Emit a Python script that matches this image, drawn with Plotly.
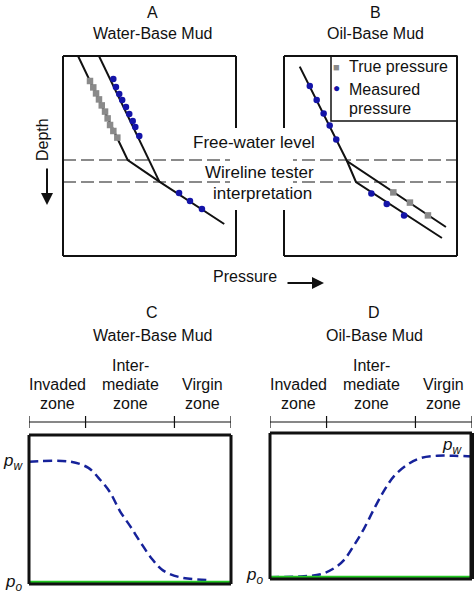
"""Pressure-gradient sketches: wireline tester plots (A, B) and invasion profiles (C, D)."""

import plotly.graph_objects as go

W, H = 474, 594
FONT = "Liberation Sans, Arial, sans-serif"
INK = "#111111"
GREY = "#8a8a8a"
BLUE = "#1414a8"
NAVY = "#16229a"
GREEN = "#22c822"

# ── Panels A/B: pressure (x, 0-100) vs depth (y, 0-100 downward) ────────────
a_true_line_p = [8.7, 37.4, 55.7, 93.2]
a_true_line_d = [0, 52, 62.8, 84]
a_meas_line_p = [20.8, 55.7]
a_meas_line_d = [0, 62.8]
a_true_p = [15.6, 17.5, 19.1, 20.8, 22.4, 24.3, 25.8, 27.2, 29.1, 31.4]
a_true_d = [12.5, 15.7, 18.7, 21.7, 24.7, 27.8, 31.2, 34.5, 37.5, 40.8]
a_meas_p = [29.1, 30.6, 32.5, 34.2, 36.4, 38.3, 40.3, 41.8, 44.1, 67.1, 73.4, 80.3]
a_meas_d = [11.5, 15.5, 19, 22, 25.5, 29, 32.5, 35.5, 40, 68.5, 72.5, 76.5]

b_true_line_p = [9.1, 36.4, 93.6]
b_true_line_d = [5.3, 52.5, 85.5]
b_meas_line_p = [36.4, 41.6, 91.3]
b_meas_line_d = [52.5, 63, 91]
b_true_p = [63.2, 72.8, 83.2]
b_true_d = [68.2, 73.3, 79.7]
b_meas_p = [14.9, 18.9, 22.9, 26.4, 30.2, 50.5, 59.4, 69.4]
b_meas_d = [15, 22, 28.7, 34.8, 41.7, 68.7, 74, 79.7]

level_d = [52, 63]          # free-water level / wireline tester interpretation
level_p = [0, 100]

# ── Panels C/D: pressure (p_o = 0, p_w = 1) vs distance from borehole ───────
zone_edges = [0, 28, 72, 100]
zone_labels = [["Invaded", "zone"], ["Inter-", "mediate", "zone"], ["Virgin", "zone"]]

c_dist = [0, 20.3, 29.4, 35.1, 40.1, 45.0, 50.0, 55.0, 60.7, 66.3, 74.8, 88.1]
c_press = [1.0, 1.0, 0.948, 0.852, 0.746, 0.590, 0.467, 0.336, 0.197, 0.098, 0.041, 0.019]
d_dist = [0, 15.2, 25.1, 31.7, 36.6, 41.6, 46.5, 51.5, 56.4, 61.4, 68.0, 74.6, 82.8, 91.1, 100]
d_press = [0, 0.006, 0.025, 0.074, 0.142, 0.265, 0.402, 0.566, 0.716, 0.839, 0.934,
           0.989, 1.008, 1.008, 1.002]
base_dist = [0, 100]
base_press = [0, 0]


def px(x):
    return x / W


def py(y):
    return 1 - y / H


annotations = []
shapes = []


def text(s, x, y, size=16, xref="paper", color=INK, **kw):
    kw.setdefault("xanchor", "center")
    kw.setdefault("yanchor", "middle")
    annotations.append(dict(
        text=s, x=x if xref != "paper" else px(x), y=py(y),
        xref=xref, yref="paper", showarrow=False,
        font=dict(size=size, color=color, family=FONT), **kw,
    ))


def frame(n, width, extra_right=None):
    sfx = "" if n == 1 else str(n)
    xr, yr = f"x{sfx} domain", f"y{sfx} domain"
    sides = [(0, 0, 1, 0), (0, 1, 1, 1), (0, 0, 0, 1), (1, 0, 1, 1)]
    for x0, y0, x1, y1 in sides:
        shapes.append(dict(type="line", xref=xr, yref=yr, x0=x0, y0=y0, x1=x1, y1=y1,
                           line=dict(color=INK, width=width)))
    if extra_right:
        shapes.append(dict(type="line", xref=xr, yref=yr, x0=1, y0=0, x1=1, y1=1,
                           line=dict(color=INK, width=extra_right)))


fig = go.Figure()


def line(x, y, n, **kw):
    sfx = "" if n == 1 else str(n)
    fig.add_trace(go.Scatter(x=x, y=y, mode="lines", xaxis="x" + sfx, yaxis="y" + sfx,
                             hoverinfo="skip", **kw))


def pts(x, y, n, symbol, color):
    sfx = "" if n == 1 else str(n)
    fig.add_trace(go.Scatter(x=x, y=y, mode="markers", xaxis="x" + sfx, yaxis="y" + sfx,
                             marker=dict(symbol=symbol, size=6.5, color=color, line_width=0)))


# ── A and B ──────────────────────────────────────────────────────────────────
for n in (1, 2):
    for d in level_d:
        line(level_p, [d, d], n, line=dict(color=GREY, width=2, dash="13px,5px"))

line(a_true_line_p, a_true_line_d, 1, line=dict(color=INK, width=2))
line(a_meas_line_p, a_meas_line_d, 1, line=dict(color=INK, width=2))
pts(a_true_p, a_true_d, 1, "square", GREY)
pts(a_meas_p, a_meas_d, 1, "circle", BLUE)

line(b_true_line_p, b_true_line_d, 2, line=dict(color=INK, width=2))
line(b_meas_line_p, b_meas_line_d, 2, line=dict(color=INK, width=2))
pts(b_true_p, b_true_d, 2, "square", GREY)
pts(b_meas_p, b_meas_d, 2, "circle", BLUE)

# ── C and D ──────────────────────────────────────────────────────────────────
line(c_dist, c_press, 3, line=dict(color=NAVY, width=2.5, dash="9px,5px", shape="spline"))
line(base_dist, base_press, 3, line=dict(color=GREEN, width=3))
line(d_dist, d_press, 4, line=dict(color=NAVY, width=2.5, dash="9px,5px", shape="spline"))
line(base_dist, base_press, 4, line=dict(color=GREEN, width=3))

frame(1, 2)
frame(2, 2)
frame(3, 3)
frame(4, 3, extra_right=5)

# white gap behind the middle labels
shapes.append(dict(type="rect", xref="paper", yref="paper",
                   x0=px(230), x1=px(293), y0=py(210), y1=py(128),
                   fillcolor="white", line_width=0))
# legend box
shapes.append(dict(type="rect", xref="paper", yref="paper",
                   x0=px(331), x1=px(457), y0=py(121), y1=py(56),
                   line=dict(color=INK, width=1.5)))

# zone scale bars
for n in (3, 4):
    xr, ybar = f"x{n}", 422
    shapes.append(dict(type="line", xref=xr, yref="paper",
                       x0=zone_edges[0], x1=zone_edges[-1], y0=py(ybar), y1=py(ybar),
                       line=dict(color=INK, width=1.2)))
    for e in zone_edges:
        shapes.append(dict(type="line", xref=xr, yref="paper",
                           x0=e, x1=e, y0=py(ybar - 6), y1=py(ybar + 6),
                           line=dict(color=INK, width=1.2)))
    for (lo, hi), lab in zip(zip(zone_edges[:-1], zone_edges[1:]), zone_labels):
        for i, s in enumerate(lab):
            text(s, (lo + hi) / 2, 403 - (len(lab) - 1 - i) * 19, xref=xr)

# ── text ─────────────────────────────────────────────────────────────────────
text("A", 152, 12)
text("Water-Base Mud", 152, 33)
text("B", 375, 12)
text("Oil-Base Mud", 375, 33)
text("Free-water level", 254, 143, size=17)
text("Wireline tester", 259, 172, size=17)
text("interpretation", 262, 194, size=17)
text("Depth", 42, 140, textangle=-90)
text("Pressure", 245, 276)

text("■", 336, 67, size=11, color=GREY)
text("●", 336, 88, size=12, color=BLUE)
text("True pressure", 347, 67, xanchor="left")
text("Measured", 347, 89, xanchor="left")
text("pressure", 347, 108, xanchor="left")

text("C", 152, 312)
text("Water-Base Mud", 152, 335)
text("D", 374, 312)
text("Oil-Base Mud", 374, 335)

pw = "<i>p</i><sub><i>w</i></sub>"
po = "<i>p</i><sub><i>o</i></sub>"
text(pw, 13, 462, size=17)
text(po, 13, 583, size=17)
text(po, 254, 576, size=17)
text(pw, 452, 446, size=17)

for (hx, hy, ax, ay) in [(47, 205, 0, -38), (324, 283, -38, 0)]:
    annotations.append(dict(x=px(hx), y=py(hy), xref="paper", yref="paper",
                            ax=ax, ay=ay, text="", showarrow=True,
                            arrowhead=2, arrowsize=1.2, arrowwidth=2, arrowcolor=INK))

hidden = dict(visible=False, fixedrange=True)
fig.update_layout(
    width=W, height=H,
    margin=dict(l=0, r=0, t=0, b=0),
    paper_bgcolor="white", plot_bgcolor="white",
    showlegend=False,
    xaxis=dict(**hidden, domain=[px(63), px(236)], range=[0, 100]),
    yaxis=dict(**hidden, domain=[py(256), py(56)], range=[100, 0]),
    xaxis2=dict(**hidden, domain=[px(284), px(457)], range=[0, 100]),
    yaxis2=dict(**hidden, domain=[py(256), py(56)], range=[100, 0]),
    xaxis3=dict(**hidden, domain=[px(29), px(231)], range=[0, 100]),
    yaxis3=dict(**hidden, domain=[py(584), py(435)], range=[-0.015, 1.221]),
    xaxis4=dict(**hidden, domain=[px(270), px(472)], range=[0, 100]),
    yaxis4=dict(**hidden, domain=[py(579), py(433)], range=[-0.015, 1.197]),
    shapes=shapes,
    annotations=annotations,
)

# page body has an 8px default margin; drop it so the figure sits at 0,0
fig.write_html("out.html", config={"displayModeBar": False},
               post_script="document.body.style.margin = '0';")
